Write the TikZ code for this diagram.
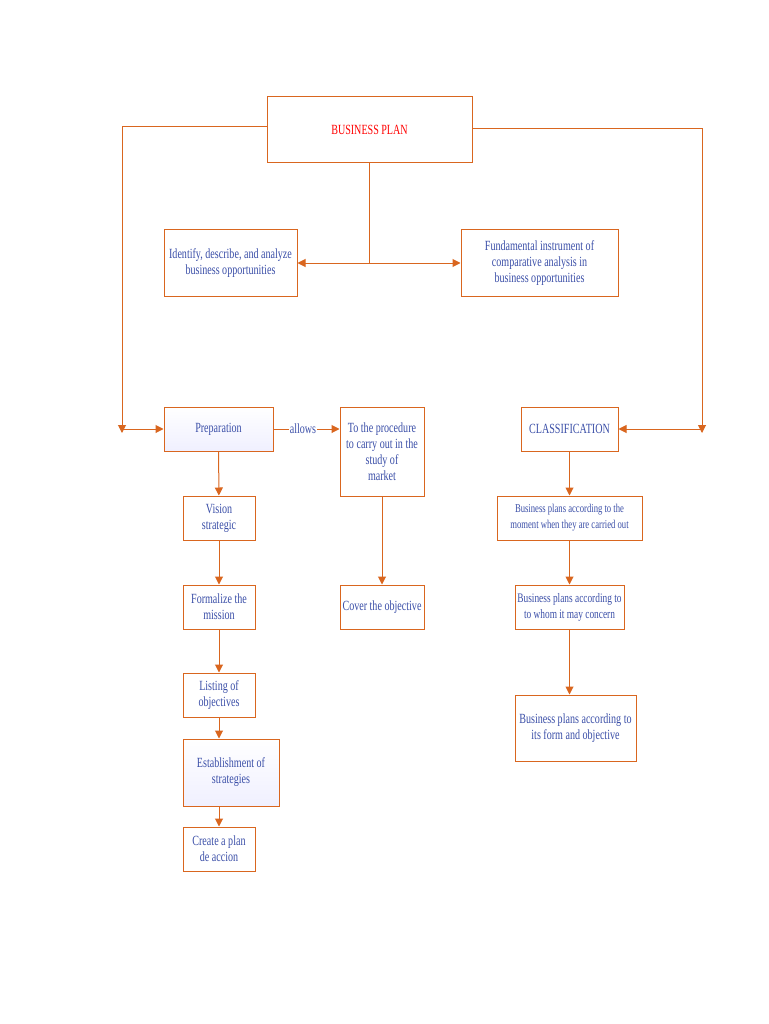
\documentclass[tikz,border=0pt]{standalone}
\usepackage{fontspec}
\setmainfont{Liberation Serif}[FakeStretch=0.72]
\usetikzlibrary{arrows.meta}
\definecolor{edge}{HTML}{D9661F}
\definecolor{ink}{HTML}{3B4FA8}
\tikzset{
  box/.style={draw=edge, line width=1pt, fill=white, text=ink, font=\fontsize{14}{16}\selectfont, align=center, inner sep=0pt},
  shade box/.style={box, top color=white, bottom color=blue!6!white},
  link/.style={draw=edge, line width=1pt, -{Triangle[length=8pt,width=8pt]}},
  wire/.style={draw=edge, line width=1pt}
}
\begin{document}
\begin{tikzpicture}[x=1pt,y=-1pt]
\useasboundingbox (0,0) rectangle (768,1024);
\node[box, minimum width=205pt, minimum height=66pt, text=red] (bp) at (369.5,130) {BUSINESS PLAN};
\node[box, minimum width=133pt, minimum height=66pt] (idf) at (230.5,263) {Identify, describe, and analyze\\ business opportunities\vphantom{p}};
\node[box, minimum width=157pt, minimum height=66pt] (fun) at (539.5,263) {Fundamental instrument of\\ comparative analysis in\\ business opportunities};
\node[shade box, minimum width=109pt, minimum height=44pt] (prep) at (218.5,429) {Preparation};
\node[box, minimum width=84pt, minimum height=89pt] (proc) at (382,451.5) {To the procedure\\ to carry out in the\\ study of\\ market};
\node[box, minimum width=97pt, minimum height=44pt] (cls) at (569.5,429) {CLASSIFICATION};
\node[box, minimum width=72pt, minimum height=44pt] (vis) at (219,518) {Vision\\ strategic};
\node[box, minimum width=72pt, minimum height=44pt] (mis) at (219,607) {Formalize the\\ mission};
\node[box, minimum width=72pt, minimum height=44pt] (lst) at (219,695) {Listing of\\ objectives};
\node[shade box, minimum width=96pt, minimum height=67pt] (est) at (231,772.5) {Establishment of\\ strategies};
\node[box, minimum width=72pt, minimum height=44pt] (act) at (219,849) {Create a plan\\ de accion};
\node[box, minimum width=84pt, minimum height=44pt] (cov) at (382,607) {Cover the objective};
\node[box, minimum width=145pt, minimum height=44pt, font=\fontsize{12}{16}\selectfont] (mom) at (569.5,518) {Business plans according to the\\ moment when they are carried out};
\node[box, minimum width=109pt, minimum height=44pt, font=\fontsize{13}{16}\selectfont] (who) at (569.5,607) {Business plans according to\\ to whom it may concern};
\node[box, minimum width=121pt, minimum height=66pt] (frm) at (575.5,728) {Business plans according to\\ its form and objective};
\node[text=ink, font=\fontsize{14}{16}\selectfont, inner sep=1pt] (alw) at (303,429) {allows};
\coordinate (lft) at (122,429);
\coordinate (rgt) at (702,429);
\coordinate (mid) at (bp.south |- idf);
\draw[link] ([yshift=3pt]bp.west) -| ([yshift=-4pt]lft);
\draw[link] (lft) to (prep.west);
\draw[link] ([yshift=1pt]bp.east) -| ([yshift=-4pt]rgt);
\draw[link] (rgt) to (cls.east);
\draw[wire] (bp.south) to (mid);
\draw[link] (mid) to (idf.east);
\draw[link] (mid) to (fun.west);
\draw[wire] (prep.east) to (alw.west);
\draw[link] (alw.east) to (alw.east -| proc.west);
\draw[link] (prep) to (vis);
\draw[link] (vis) to (mis);
\draw[link] (mis) to (lst);
\draw[link] (lst) to (lst |- est.north);
\draw[link] (lst |- est.south) to (act);
\draw[link] (proc) to (cov);
\draw[link] (cls) to (mom);
\draw[link] (mom) to (who);
\draw[link] (who) to (who |- frm.north);
\end{tikzpicture}
\end{document}
